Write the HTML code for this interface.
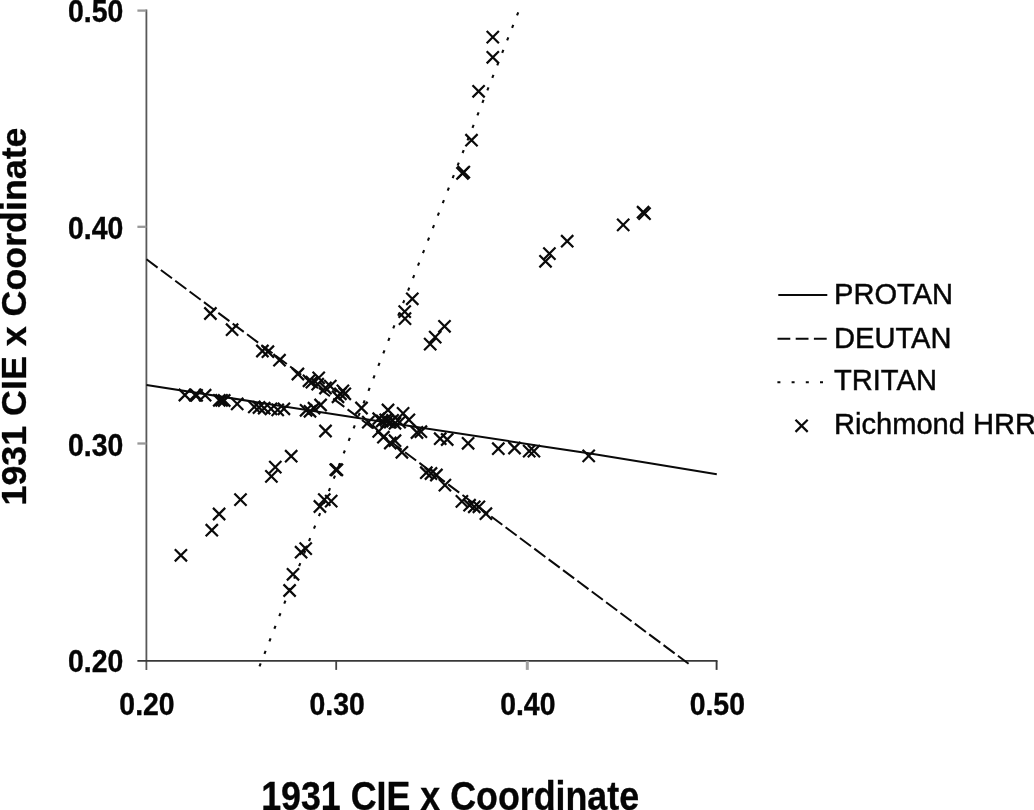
<!DOCTYPE html>
<html lang="en"><head><meta charset="utf-8"><title>1931 CIE chromaticity plot</title>
<style>html,body{margin:0;padding:0;background:#fff;}body{width:1034px;height:810px;overflow:hidden;}svg{display:block;filter:blur(0.62px);}text{font-family:"Liberation Sans",sans-serif;fill:#050505;}.tick{font-weight:bold;font-size:29px;stroke:#050505;stroke-width:0.35px;}.title{font-weight:bold;font-size:35.8px;stroke:#050505;stroke-width:0.3px;}.leg{font-size:29.1px;stroke:#111;stroke-width:0.5px;}</style></head><body>
<svg width="1034" height="810" viewBox="0 0 1034 810">
<rect width="1034" height="810" fill="#fff"/>
<defs><g id="m"><path d="M-6.1 -6.1L6.1 6.1M-6.1 6.1L6.1 -6.1" stroke="#0a0a0a" stroke-width="2.2" fill="none"/></g></defs>
<g fill="none">
<path d="M146.4 9.6V669.9" stroke="#585858" stroke-width="1.8"/>
<path d="M137.4 660.9H717.5" stroke="#383838" stroke-width="1.9"/>
<path d="M336.2 660.9V669.9" stroke="#444" stroke-width="1.8"/>
<path d="M527.3 660.9V669.9" stroke="#a2a2a2" stroke-width="3"/>
<path d="M716.6 660.9V669.9" stroke="#383838" stroke-width="1.9"/>
<path d="M137.4 443.5H146.4" stroke="#989898" stroke-width="2.3"/>
<path d="M137.4 226.8H146.4" stroke="#989898" stroke-width="2.3"/>
<path d="M137.4 10.6H146.4" stroke="#989898" stroke-width="2.3"/>
</g>
<path d="M146.5 385.1L400 424.4L540 445.9L588.6 453.3L650 463.3L716.8 474.2" stroke="#0a0a0a" stroke-width="2" stroke-linejoin="round" fill="none"/>
<path d="M146.5 259.3L688.6 663.8" stroke="#0a0a0a" stroke-width="2" stroke-dasharray="13.85 4.07" fill="none"/>
<path d="M518.23 12.30L259.43 666.50" stroke="#0a0a0a" stroke-width="2.1" stroke-dasharray="3.2 10.264" fill="none"/>
<g>
<use href="#m" x="210.4" y="313.5"/>
<use href="#m" x="232.1" y="329.7"/>
<use href="#m" x="262.4" y="351.0"/>
<use href="#m" x="267.9" y="351.7"/>
<use href="#m" x="279.5" y="360.2"/>
<use href="#m" x="297.9" y="374.0"/>
<use href="#m" x="309.0" y="380.8"/>
<use href="#m" x="311.9" y="382.2"/>
<use href="#m" x="318.7" y="377.9"/>
<use href="#m" x="317.7" y="384.2"/>
<use href="#m" x="325.5" y="388.0"/>
<use href="#m" x="330.3" y="386.1"/>
<use href="#m" x="338.0" y="396.8"/>
<use href="#m" x="342.9" y="390.9"/>
<use href="#m" x="340.4" y="393.8"/>
<use href="#m" x="344.8" y="393.8"/>
<use href="#m" x="184.9" y="395.0"/>
<use href="#m" x="195.2" y="395.0"/>
<use href="#m" x="196.6" y="395.3"/>
<use href="#m" x="205.1" y="395.2"/>
<use href="#m" x="219.3" y="400.3"/>
<use href="#m" x="221.6" y="400.3"/>
<use href="#m" x="224.2" y="400.5"/>
<use href="#m" x="237.2" y="403.9"/>
<use href="#m" x="254.3" y="406.9"/>
<use href="#m" x="259.0" y="407.5"/>
<use href="#m" x="264.2" y="408.2"/>
<use href="#m" x="271.0" y="408.9"/>
<use href="#m" x="277.7" y="409.9"/>
<use href="#m" x="283.9" y="408.8"/>
<use href="#m" x="306.1" y="410.3"/>
<use href="#m" x="310.0" y="411.3"/>
<use href="#m" x="314.0" y="408.2"/>
<use href="#m" x="320.6" y="405.0"/>
<use href="#m" x="325.5" y="431.0"/>
<use href="#m" x="361.5" y="408.0"/>
<use href="#m" x="378.7" y="418.7"/>
<use href="#m" x="382.2" y="421.0"/>
<use href="#m" x="385.7" y="419.8"/>
<use href="#m" x="390.3" y="422.1"/>
<use href="#m" x="395.0" y="423.3"/>
<use href="#m" x="399.6" y="422.1"/>
<use href="#m" x="408.9" y="419.8"/>
<use href="#m" x="388.0" y="410.0"/>
<use href="#m" x="403.1" y="413.4"/>
<use href="#m" x="368.3" y="422.1"/>
<use href="#m" x="378.7" y="431.4"/>
<use href="#m" x="383.4" y="437.2"/>
<use href="#m" x="390.3" y="443.0"/>
<use href="#m" x="395.0" y="440.7"/>
<use href="#m" x="401.9" y="452.3"/>
<use href="#m" x="386.8" y="421.6"/>
<use href="#m" x="392.6" y="420.4"/>
<use href="#m" x="417.0" y="432.5"/>
<use href="#m" x="420.9" y="431.7"/>
<use href="#m" x="440.2" y="438.7"/>
<use href="#m" x="447.2" y="439.5"/>
<use href="#m" x="468.1" y="443.3"/>
<use href="#m" x="498.3" y="448.7"/>
<use href="#m" x="514.5" y="448.0"/>
<use href="#m" x="529.2" y="451.1"/>
<use href="#m" x="533.9" y="451.1"/>
<use href="#m" x="588.7" y="455.9"/>
<use href="#m" x="426.3" y="472.7"/>
<use href="#m" x="431.0" y="473.5"/>
<use href="#m" x="436.4" y="475.0"/>
<use href="#m" x="444.9" y="485.1"/>
<use href="#m" x="461.9" y="501.4"/>
<use href="#m" x="469.6" y="505.2"/>
<use href="#m" x="474.3" y="506.8"/>
<use href="#m" x="478.9" y="506.8"/>
<use href="#m" x="485.9" y="513.7"/>
<use href="#m" x="492.8" y="37.1"/>
<use href="#m" x="492.8" y="57.3"/>
<use href="#m" x="478.6" y="91.3"/>
<use href="#m" x="471.5" y="140.2"/>
<use href="#m" x="462.5" y="173.4"/>
<use href="#m" x="463.8" y="172.1"/>
<use href="#m" x="412.3" y="298.8"/>
<use href="#m" x="404.7" y="311.6"/>
<use href="#m" x="405.0" y="318.6"/>
<use href="#m" x="444.5" y="326.3"/>
<use href="#m" x="435.2" y="337.1"/>
<use href="#m" x="430.2" y="344.1"/>
<use href="#m" x="545.5" y="261.3"/>
<use href="#m" x="549.4" y="253.6"/>
<use href="#m" x="567.2" y="241.2"/>
<use href="#m" x="623.2" y="224.9"/>
<use href="#m" x="643.1" y="212.2"/>
<use href="#m" x="644.5" y="213.6"/>
<use href="#m" x="291.2" y="456.2"/>
<use href="#m" x="275.3" y="467.1"/>
<use href="#m" x="271.4" y="476.4"/>
<use href="#m" x="240.5" y="499.6"/>
<use href="#m" x="219.1" y="514.0"/>
<use href="#m" x="211.8" y="530.2"/>
<use href="#m" x="180.9" y="555.3"/>
<use href="#m" x="335.8" y="469.7"/>
<use href="#m" x="336.9" y="469.8"/>
<use href="#m" x="324.3" y="499.6"/>
<use href="#m" x="331.2" y="501.1"/>
<use href="#m" x="319.9" y="506.5"/>
<use href="#m" x="301.1" y="552.2"/>
<use href="#m" x="305.7" y="548.6"/>
<use href="#m" x="293.0" y="574.3"/>
<use href="#m" x="289.6" y="590.5"/>
</g>
<text class="tick" transform="translate(147.0 715.4) scale(0.98 1.083)" text-anchor="middle">0.20</text>
<text class="tick" transform="translate(337.1 715.4) scale(0.98 1.083)" text-anchor="middle">0.30</text>
<text class="tick" transform="translate(527.8 715.4) scale(0.98 1.083)" text-anchor="middle">0.40</text>
<text class="tick" transform="translate(717.3 715.4) scale(0.98 1.083)" text-anchor="middle">0.50</text>
<text class="tick" transform="translate(123.3 672.0) scale(0.98 1.083)" text-anchor="end">0.20</text>
<text class="tick" transform="translate(123.3 455.5) scale(0.98 1.083)" text-anchor="end">0.30</text>
<text class="tick" transform="translate(123.3 238.7) scale(0.98 1.083)" text-anchor="end">0.40</text>
<text class="tick" transform="translate(123.3 22.0) scale(0.98 1.083)" text-anchor="end">0.50</text>
<text class="title" transform="translate(450.1 809.8) scale(1 1.11)" text-anchor="middle">1931 CIE x Coordinate</text>
<text class="title" transform="translate(26.3 316.5) rotate(-90)" text-anchor="middle">1931 CIE x Coordinate</text>
<path d="M778.3 295H827.3" stroke="#0a0a0a" stroke-width="1.9" fill="none"/>
<path d="M777.5 338.7H827" stroke="#0a0a0a" stroke-width="1.9" stroke-dasharray="12.8 5.4" fill="none"/>
<path d="M777.4 382.3H824" stroke="#0a0a0a" stroke-width="2.1" stroke-dasharray="3 11.2" fill="none"/>
<use href="#m" x="801.6" y="425.8"/>
<text class="leg" x="834" y="303.9">PROTAN</text>
<text class="leg" x="834" y="347.7">DEUTAN</text>
<text class="leg" x="834" y="390.4">TRITAN</text>
<text class="leg" x="834" y="434.1">Richmond HRR</text>
</svg></body></html>
